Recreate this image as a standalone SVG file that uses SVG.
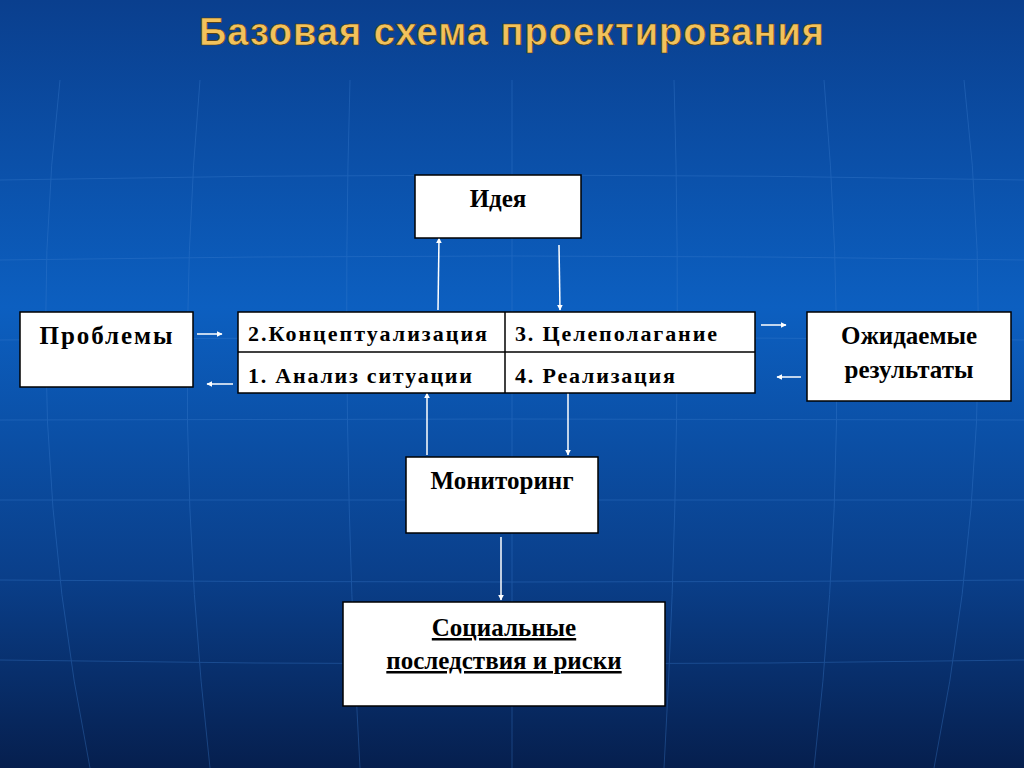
<svg xmlns="http://www.w3.org/2000/svg" width="1024" height="768" viewBox="0 0 1024 768">
<defs>
<linearGradient id="bg" x1="0" y1="0" x2="0" y2="1">
<stop offset="0" stop-color="#0a3f8e"/>
<stop offset="0.4" stop-color="#0c5fc0"/>
<stop offset="0.75" stop-color="#0a3f8a"/>
<stop offset="1" stop-color="#061f4e"/>
</linearGradient>
<marker id="ah" viewBox="0 0 10 10" refX="9" refY="5" markerWidth="4" markerHeight="4" orient="auto"><path d="M0,0 L10,5 L0,10 z" fill="#fff"/></marker>
<style>
.box{fill:#fff;stroke:#000;stroke-width:1.5}
.t{font-family:"Liberation Serif",serif;font-weight:bold;fill:#000}
.ln{stroke:#fff;stroke-width:1.5;fill:none;marker-end:url(#ah)}
.grid{stroke:#3d7fd0;stroke-width:1;fill:none;opacity:0.35}
</style>
</defs>
<rect width="1024" height="768" fill="url(#bg)"/>
<g class="grid">
<path d="M0,180 Q512,170 1024,180 M0,260 Q512,252 1024,260 M0,340 Q512,335 1024,340 M0,420 Q512,418 1024,420 M0,500 Q512,500 1024,500 M0,580 Q512,584 1024,580 M0,660 Q512,668 1024,660"/>
<path d="M60,80 Q20,420 90,768 M200,80 Q170,420 210,768 M350,80 Q340,420 360,768 M512,80 L512,768 M674,80 Q684,420 664,768 M824,80 Q854,420 814,768 M964,80 Q1004,420 934,768"/>
</g>
<text x="512" y="45" text-anchor="middle" font-family="Liberation Sans,sans-serif" font-weight="bold" font-size="38" letter-spacing="1" fill="#f2c25c" stroke="#5a3a00" stroke-width="0.6">Базовая схема проектирования</text>
<g id="connectors">
<line class="ln" x1="438" y1="310" x2="439" y2="238"/>
<line class="ln" x1="559" y1="245" x2="560" y2="310"/>
<line class="ln" x1="197" y1="334" x2="222" y2="334"/>
<line class="ln" x1="233" y1="384" x2="207" y2="384"/>
<line class="ln" x1="761" y1="325" x2="786" y2="325"/>
<line class="ln" x1="801" y1="377" x2="777" y2="377"/>
<line class="ln" x1="427" y1="455" x2="427" y2="393"/>
<line class="ln" x1="568" y1="393" x2="568" y2="455"/>
<line class="ln" x1="501" y1="537" x2="501" y2="600"/>
</g>
<g id="idea"><rect class="box" x="415" y="175" width="166" height="63"/><text class="t" x="498" y="207" text-anchor="middle" font-size="25">Идея</text></g>
<g id="problems"><rect class="box" x="20" y="312" width="173" height="75"/><text class="t" x="106" y="344" text-anchor="middle" font-size="25" textLength="133">Проблемы</text></g>
<g id="matrix">
<rect class="box" x="238" y="312" width="517" height="81"/>
<line x1="238" y1="352" x2="755" y2="352" stroke="#000" stroke-width="1.5"/>
<line x1="505" y1="312" x2="505" y2="393" stroke="#000" stroke-width="1.5"/>
<text class="t" x="248" y="341" font-size="22" textLength="239">2.Концептуализация</text>
<text class="t" x="515" y="341" font-size="22" textLength="202">3. Целеполагание</text>
<text class="t" x="248" y="383" font-size="22" textLength="224">1. Анализ ситуации</text>
<text class="t" x="515" y="383" font-size="22" textLength="160">4. Реализация</text>
</g>
<g id="results"><rect class="box" x="807" y="312" width="204" height="89"/><text class="t" x="909" y="344" text-anchor="middle" font-size="25">Ожидаемые</text><text class="t" x="909" y="378" text-anchor="middle" font-size="25">результаты</text></g>
<g id="monitoring"><rect class="box" x="406" y="457" width="192" height="76"/><text class="t" x="502" y="489" text-anchor="middle" font-size="25">Мониторинг</text></g>
<g id="social"><rect class="box" x="343" y="602" width="322" height="104"/><text class="t" x="504" y="636" text-anchor="middle" font-size="25" text-decoration="underline">Социальные</text><text class="t" x="504" y="669" text-anchor="middle" font-size="25" text-decoration="underline">последствия и риски</text></g>
</svg>
